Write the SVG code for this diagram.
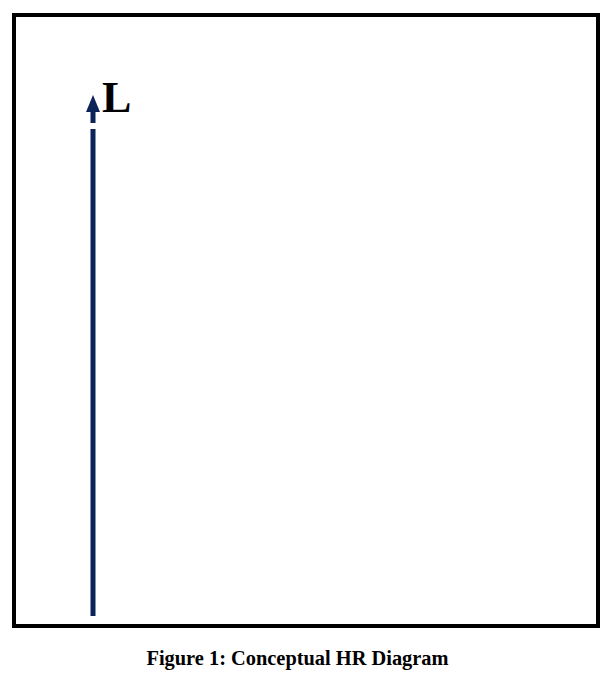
<svg xmlns="http://www.w3.org/2000/svg" width="616" height="682" viewBox="0 0 616 682">
<style>
.serif{font-family:"Liberation Serif","Times New Roman",serif;font-weight:bold;fill:#000}
.axis{stroke:#0b2357;stroke-width:5;fill:none}
</style>
<rect width="616" height="682" fill="#fff"/>
<g id="frame"><rect x="14" y="15" width="584" height="611" fill="none" stroke="#000" stroke-width="4"/></g>
<g id="connectors">
<line class="axis" x1="93" y1="616" x2="93" y2="129"/>
<line class="axis" x1="93" y1="123" x2="93" y2="110"/>
<polygon points="93,95 100,112 86,112" fill="#0b2357"/>
</g>
<g id="label-L"><text class="serif" x="102" y="112" font-size="44">L</text></g>
<g id="caption"><text class="serif" x="297.5" y="665" font-size="20.4" text-anchor="middle">Figure 1: Conceptual HR Diagram</text></g>
</svg>
